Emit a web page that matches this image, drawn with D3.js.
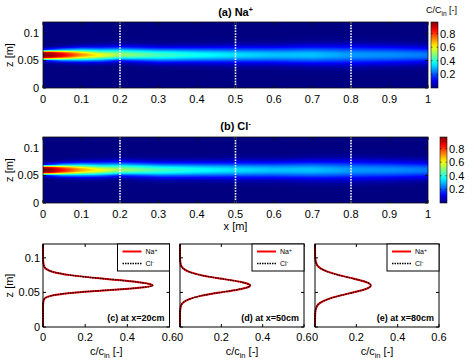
<!DOCTYPE html>
<html><head><meta charset="utf-8">
<script src="https://cdn.jsdelivr.net/npm/d3@7"></script>
<style>
body{margin:0;background:#fff}
svg{display:block}
text{font-family:"Liberation Sans",Arial,sans-serif;fill:#000}
</style>
</head><body>
<svg id="chart" width="474" height="361"></svg>
<script>
// ---------------- DATA ----------------
// x stations (m) where concentration columns were read
const xStations = [0, 0.02, 0.05, 0.1, 0.15, 0.2, 0.3, 0.4, 0.5, 0.6, 0.7, 0.8, 0.9, 1.0];
// z rows (m)
const zRows = [0, 0.02, 0.03, 0.035, 0.04, 0.045, 0.05, 0.0525, 0.055, 0.0575, 0.06, 0.0625, 0.065, 0.0675, 0.07, 0.075, 0.08, 0.085, 0.09, 0.1, 0.12];
// Na+ : C/Cin, one column per x station, values along zRows
const naField = [
  [0,0,0,0,0,0.01,0.12,0.5,0.88,0.96,0.97,0.96,0.9,0.5,0.12,0.01,0,0,0,0,0],
  [0,0,0,0,0.002,0.02,0.18,0.5,0.82,0.93,0.95,0.93,0.85,0.5,0.18,0.02,0.002,0,0,0,0],
  [0,0,0,0,0.003,0.04,0.25,0.48,0.72,0.85,0.88,0.85,0.75,0.5,0.25,0.05,0.005,0,0,0,0],
  [0,0,0,0,0.01,0.07,0.27,0.42,0.57,0.68,0.72,0.69,0.6,0.45,0.3,0.1,0.02,0.003,0,0,0],
  [0,0,0,0.001,0.012,0.07,0.24,0.36,0.48,0.57,0.6,0.56,0.47,0.37,0.27,0.11,0.03,0.008,0.002,0,0],
  [0,0,0,0.001,0.005,0.036,0.16,0.27,0.39,0.48,0.52,0.5,0.445,0.37,0.28,0.13,0.044,0.011,0.003,0,0],
  [0,0,0.001,0.007,0.03,0.09,0.22,0.3,0.37,0.415,0.43,0.415,0.37,0.3,0.22,0.09,0.03,0.007,0.001,0,0],
  [0,0,0.002,0.008,0.032,0.095,0.205,0.27,0.325,0.365,0.38,0.365,0.325,0.27,0.205,0.095,0.032,0.008,0.002,0,0],
  [0,0,0.004,0.014,0.042,0.1,0.195,0.249,0.296,0.328,0.34,0.328,0.296,0.249,0.195,0.1,0.042,0.014,0.004,0,0],
  [0,0,0.004,0.014,0.042,0.101,0.19,0.235,0.273,0.3,0.31,0.3,0.273,0.235,0.19,0.101,0.042,0.014,0.004,0,0],
  [0,0.001,0.008,0.023,0.06,0.122,0.205,0.245,0.28,0.302,0.31,0.302,0.28,0.245,0.205,0.122,0.06,0.023,0.008,0.001,0],
  [0,0.001,0.009,0.025,0.06,0.115,0.185,0.218,0.246,0.264,0.27,0.264,0.246,0.218,0.185,0.115,0.06,0.025,0.009,0.001,0],
  [0,0.001,0.006,0.019,0.049,0.102,0.172,0.205,0.234,0.253,0.26,0.253,0.234,0.205,0.172,0.102,0.049,0.019,0.006,0.001,0],
  [0,0,0.003,0.011,0.033,0.08,0.146,0.18,0.212,0.232,0.24,0.232,0.212,0.18,0.146,0.08,0.033,0.011,0.003,0,0]
];
// Cl- : C/Cin
const clField = [
  [0,0,0,0,0,0.01,0.1,0.48,0.9,0.97,0.97,0.97,0.9,0.48,0.1,0.01,0,0,0,0,0],
  [0,0,0,0,0.002,0.02,0.17,0.5,0.84,0.94,0.95,0.93,0.84,0.48,0.17,0.02,0.002,0,0,0,0],
  [0,0,0,0,0.004,0.045,0.26,0.47,0.7,0.82,0.85,0.82,0.72,0.49,0.26,0.055,0.006,0,0,0,0],
  [0,0,0,0,0.01,0.075,0.27,0.41,0.55,0.66,0.7,0.67,0.58,0.44,0.3,0.1,0.02,0.003,0,0,0],
  [0,0,0,0.001,0.012,0.07,0.24,0.36,0.48,0.57,0.6,0.56,0.47,0.37,0.27,0.11,0.03,0.008,0.002,0,0],
  [0,0,0,0.001,0.005,0.036,0.16,0.27,0.39,0.48,0.52,0.5,0.445,0.37,0.28,0.13,0.044,0.011,0.003,0,0],
  [0,0,0.001,0.007,0.03,0.09,0.22,0.3,0.37,0.415,0.43,0.415,0.37,0.3,0.22,0.09,0.03,0.007,0.001,0,0],
  [0,0,0.002,0.008,0.032,0.095,0.205,0.27,0.325,0.365,0.38,0.365,0.325,0.27,0.205,0.095,0.032,0.008,0.002,0,0],
  [0,0,0.004,0.014,0.042,0.1,0.195,0.249,0.296,0.328,0.34,0.328,0.296,0.249,0.195,0.1,0.042,0.014,0.004,0,0],
  [0,0,0.004,0.014,0.042,0.101,0.19,0.235,0.273,0.3,0.31,0.3,0.273,0.235,0.19,0.101,0.042,0.014,0.004,0,0],
  [0,0.001,0.008,0.023,0.06,0.122,0.205,0.245,0.28,0.302,0.31,0.302,0.28,0.245,0.205,0.122,0.06,0.023,0.008,0.001,0],
  [0,0.001,0.009,0.025,0.06,0.115,0.185,0.218,0.246,0.264,0.27,0.264,0.246,0.218,0.185,0.115,0.06,0.025,0.009,0.001,0],
  [0,0.001,0.006,0.019,0.049,0.102,0.172,0.205,0.234,0.253,0.26,0.253,0.234,0.205,0.172,0.102,0.049,0.019,0.006,0.001,0],
  [0,0,0.003,0.011,0.033,0.08,0.146,0.18,0.212,0.232,0.24,0.232,0.212,0.18,0.146,0.08,0.033,0.011,0.003,0,0]
];
const sectionX = [0.2, 0.5, 0.8];
const sectionLabels = ["(c) at x=20cm", "(d) at x=50cm", "(e) at x=80cm"];
const xTicks = [0, 0.1, 0.2, 0.3, 0.4, 0.5, 0.6, 0.7, 0.8, 0.9, 1];
const zTicks = [0, 0.05, 0.1];
const cbTicks = [0.2, 0.4, 0.6, 0.8];
const concTicks = [0, 0.2, 0.4, 0.6];

// ---------------- HELPERS ----------------
const svg = d3.select("#chart");
const clamp = v => Math.max(0, Math.min(1, v));
function jet(t) {
  const r = clamp(Math.min(4*t - 1.5, -4*t + 4.5));
  const g = clamp(Math.min(4*t - 0.5, -4*t + 3.5));
  const b = clamp(Math.min(4*t + 0.5, -4*t + 2.5));
  return `rgb(${Math.round(r*255)},${Math.round(g*255)},${Math.round(b*255)})`;
}
function sample(field, x, z) {
  const n = xStations.length, m = zRows.length;
  const i = Math.max(0, Math.min(n-2, d3.bisectRight(xStations, x) - 1));
  const j = Math.max(0, Math.min(m-2, d3.bisectRight(zRows, z) - 1));
  const tx = clamp((x - xStations[i]) / (xStations[i+1] - xStations[i]));
  const tz = clamp((z - zRows[j]) / (zRows[j+1] - zRows[j]));
  return (1-tx)*(1-tz)*field[i][j] + tx*(1-tz)*field[i+1][j]
       + (1-tx)*tz*field[i][j+1] + tx*tz*field[i+1][j+1];
}
const fmt = v => String(v);

// ---------------- HEATMAP PANELS ----------------
const X0 = 43, X1 = 428;
const xHeat = d3.scaleLinear().domain([0, 1]).range([X0, X1]);

function heatPanel(opt) {
  const field = opt.field;
  const y = d3.scaleLinear().domain([0, 0.12]).range([opt.bottom, opt.top]);
  const cmax = d3.max(field.flat());
  const color = d3.scaleSequential(jet).domain([0, cmax]);
  const W = Math.round(X1 - X0), H = Math.round(opt.bottom - opt.top);
  const cv = document.createElement("canvas");
  cv.width = W; cv.height = H;
  const ctx = cv.getContext("2d");
  const img = ctx.createImageData(W, H);
  for (let py = 0; py < H; py++) {
    const z = y.invert(opt.top + py + 0.5);
    for (let px = 0; px < W; px++) {
      const x = xHeat.invert(X0 + px + 0.5);
      const c = d3.rgb(color(sample(field, x, z)));
      const k = (py*W + px)*4;
      img.data[k] = c.r; img.data[k+1] = c.g; img.data[k+2] = c.b; img.data[k+3] = 255;
    }
  }
  ctx.putImageData(img, 0, 0);
  const g = svg.append("g");
  g.append("image").attr("x", X0).attr("y", opt.top).attr("width", W).attr("height", H)
    .attr("preserveAspectRatio", "none").attr("href", cv.toDataURL());
  // dotted section lines
  g.selectAll("line.sec").data(sectionX).join("line").attr("class", "sec")
    .attr("x1", d => xHeat(d)).attr("x2", d => xHeat(d))
    .attr("y1", opt.top).attr("y2", opt.bottom)
    .attr("stroke", "#fff").attr("stroke-width", 1.6).attr("stroke-dasharray", "1.6,1.2");
  // frame
  g.append("rect").attr("x", X0).attr("y", opt.top).attr("width", X1 - X0).attr("height", opt.bottom - opt.top)
    .attr("fill", "none").attr("stroke", "#111").attr("stroke-width", 0.8);
  // ticks inside
  xTicks.forEach(t => {
    g.append("line").attr("x1", xHeat(t)).attr("x2", xHeat(t)).attr("y1", opt.bottom).attr("y2", opt.bottom - 3).attr("stroke", "#111");
    g.append("line").attr("x1", xHeat(t)).attr("x2", xHeat(t)).attr("y1", opt.top).attr("y2", opt.top + 3).attr("stroke", "#111");
    g.append("text").attr("x", xHeat(t)).attr("y", opt.tickY).attr("text-anchor", "middle")
      .attr("font-size", 11).text(fmt(t));
  });
  zTicks.forEach(t => {
    g.append("line").attr("x1", X0).attr("x2", X0 + 3).attr("y1", y(t)).attr("y2", y(t)).attr("stroke", "#111");
    g.append("line").attr("x1", X1).attr("x2", X1 - 3).attr("y1", y(t)).attr("y2", y(t)).attr("stroke", "#111");
    g.append("text").attr("x", 39).attr("y", y(t)).attr("dy", "0.36em").attr("text-anchor", "end")
      .attr("font-size", 11).text(fmt(t));
  });
  // z label
  const cy = (opt.top + opt.bottom) / 2;
  g.append("text").attr("transform", `translate(13,${cy}) rotate(-90)`).attr("text-anchor", "middle")
    .attr("font-size", 11).text("z [m]");
  // title
  const tt = g.append("text").attr("x", (X0 + X1) / 2).attr("y", opt.titleY).attr("text-anchor", "middle")
    .attr("font-size", 11).attr("font-weight", "bold");
  tt.append("tspan").text(opt.title);
  tt.append("tspan").attr("dy", -4).attr("font-size", 7).text(opt.sup);
  if (opt.xLabel) {
    g.append("text").attr("x", (X0 + X1) / 2).attr("y", opt.xLabelY).attr("text-anchor", "middle")
      .attr("font-size", 11).text("x [m]");
  }
  // colorbar
  const cb = d3.scaleLinear().domain([0, cmax]).range([opt.bottom, opt.top]);
  const gid = "grad" + opt.id;
  const grad = svg.append("defs").append("linearGradient").attr("id", gid)
    .attr("x1", 0).attr("y1", 1).attr("x2", 0).attr("y2", 0);
  d3.range(0, 1.0001, 0.05).forEach(s => grad.append("stop").attr("offset", s).attr("stop-color", jet(s)));
  g.append("rect").attr("x", opt.cbX).attr("y", opt.top).attr("width", opt.cbW).attr("height", opt.bottom - opt.top)
    .attr("fill", `url(#${gid})`).attr("stroke", "#111").attr("stroke-width", 0.6);
  cbTicks.forEach(t => {
    g.append("line").attr("x1", opt.cbX).attr("x2", opt.cbX + 1.5).attr("y1", cb(t)).attr("y2", cb(t)).attr("stroke", "#111").attr("stroke-width", 0.6);
    g.append("line").attr("x1", opt.cbX + opt.cbW).attr("x2", opt.cbX + opt.cbW - 1.5).attr("y1", cb(t)).attr("y2", cb(t)).attr("stroke", "#111").attr("stroke-width", 0.6);
    g.append("text").attr("x", opt.cbX + opt.cbW + 2).attr("y", cb(t)).attr("dy", "0.36em")
      .attr("font-size", 11).text(fmt(t));
  });
  if (opt.cbLabel) {
    const lt = g.append("text").attr("x", opt.cbX - 5).attr("y", 13).attr("font-size", 9);
    lt.append("tspan").text("C/C");
    lt.append("tspan").attr("dy", 2.5).attr("font-size", 6.5).text("in");
    lt.append("tspan").attr("dy", -2.5).text(" [-]");
  }
}

heatPanel({id: "a", field: naField, top: 22, bottom: 88, tickY: 103, titleY: 16, title: "(a) Na", sup: "+",
  cbX: 431, cbW: 7, cbLabel: true});
heatPanel({id: "b", field: clField, top: 137, bottom: 203, tickY: 218, titleY: 130, title: "(b) Cl", sup: "-",
  cbX: 440, cbW: 7, xLabel: true, xLabelY: 230});

// ---------------- PROFILE PANELS ----------------
const profTop = 244, profBottom = 327;
const panelX = [[43, 169.5], [180, 304], [315, 439]];
const yProf = d3.scaleLinear().domain([0, 0.12]).range([profBottom, profTop]);

sectionX.forEach((sx, k) => {
  const [L, R] = panelX[k];
  const xs = d3.scaleLinear().domain([0, 0.6]).range([L, R]);
  const g = svg.append("g");
  const idx = xStations.indexOf(sx);
  const line = d3.line().x(d => xs(d[1])).y(d => yProf(d[0])).curve(d3.curveMonotoneY);
  const naPts = zRows.map((z, j) => [z, naField[idx][j]]);
  const clPts = zRows.map((z, j) => [z, clField[idx][j]]);
  g.append("rect").attr("x", L).attr("y", profTop).attr("width", R - L).attr("height", profBottom - profTop)
    .attr("fill", "#fff");
  g.append("path").attr("d", line(naPts)).attr("fill", "none").attr("stroke", "#f00").attr("stroke-width", 2);
  g.append("path").attr("d", line(clPts)).attr("fill", "none").attr("stroke", "#000").attr("stroke-width", 1.3)
    .attr("stroke-dasharray", "1.5,1");
  g.append("rect").attr("x", L).attr("y", profTop).attr("width", R - L).attr("height", profBottom - profTop)
    .attr("fill", "none").attr("stroke", "#000").attr("stroke-width", 1);
  concTicks.forEach(t => {
    g.append("line").attr("x1", xs(t)).attr("x2", xs(t)).attr("y1", profBottom).attr("y2", profBottom - 3).attr("stroke", "#000");
    g.append("line").attr("x1", xs(t)).attr("x2", xs(t)).attr("y1", profTop).attr("y2", profTop + 3).attr("stroke", "#000");
    g.append("text").attr("x", xs(t)).attr("y", 341).attr("text-anchor", "middle").attr("font-size", 11).text(fmt(t));
  });
  zTicks.forEach(t => {
    g.append("line").attr("x1", L).attr("x2", L + 3).attr("y1", yProf(t)).attr("y2", yProf(t)).attr("stroke", "#000");
    g.append("line").attr("x1", R).attr("x2", R - 3).attr("y1", yProf(t)).attr("y2", yProf(t)).attr("stroke", "#000");
    if (k === 0) g.append("text").attr("x", L - 3).attr("y", yProf(t)).attr("dy", "0.36em").attr("text-anchor", "end")
      .attr("font-size", 11).text(fmt(t));
  });
  // x label
  const xl = g.append("text").attr("x", (L + R) / 2).attr("y", 355).attr("text-anchor", "middle").attr("font-size", 11);
  xl.append("tspan").text("c/c");
  xl.append("tspan").attr("dy", 3).attr("font-size", 7.5).text("in");
  xl.append("tspan").attr("dy", -3).text(" [-]");
  // panel annotation
  g.append("text").attr("x", R - 5).attr("y", 321).attr("text-anchor", "end").attr("font-size", 9)
    .attr("font-weight", "bold").text(sectionLabels[k]);
  // legend
  const lx = R - 52, ly = profTop;
  g.append("rect").attr("x", lx).attr("y", ly).attr("width", 52).attr("height", 27)
    .attr("fill", "#fff").attr("stroke", "#000").attr("stroke-width", 1);
  g.append("line").attr("x1", lx + 5).attr("x2", lx + 24).attr("y1", ly + 7.5).attr("y2", ly + 7.5)
    .attr("stroke", "#f00").attr("stroke-width", 2);
  g.append("line").attr("x1", lx + 5).attr("x2", lx + 24).attr("y1", ly + 19.5).attr("y2", ly + 19.5)
    .attr("stroke", "#000").attr("stroke-width", 1.3).attr("stroke-dasharray", "1.5,1");
  const t1 = g.append("text").attr("x", lx + 28).attr("y", ly + 10).attr("font-size", 7);
  t1.append("tspan").text("Na"); t1.append("tspan").attr("dy", -2.5).attr("font-size", 5).text("+");
  const t2 = g.append("text").attr("x", lx + 28).attr("y", ly + 22).attr("font-size", 7);
  t2.append("tspan").text("Cl"); t2.append("tspan").attr("dy", -2.5).attr("font-size", 5).text("-");
});
svg.append("text").attr("transform", `translate(13,${(profTop + profBottom) / 2}) rotate(-90)`)
  .attr("text-anchor", "middle").attr("font-size", 11).text("z [m]");
</script>
</body></html>
